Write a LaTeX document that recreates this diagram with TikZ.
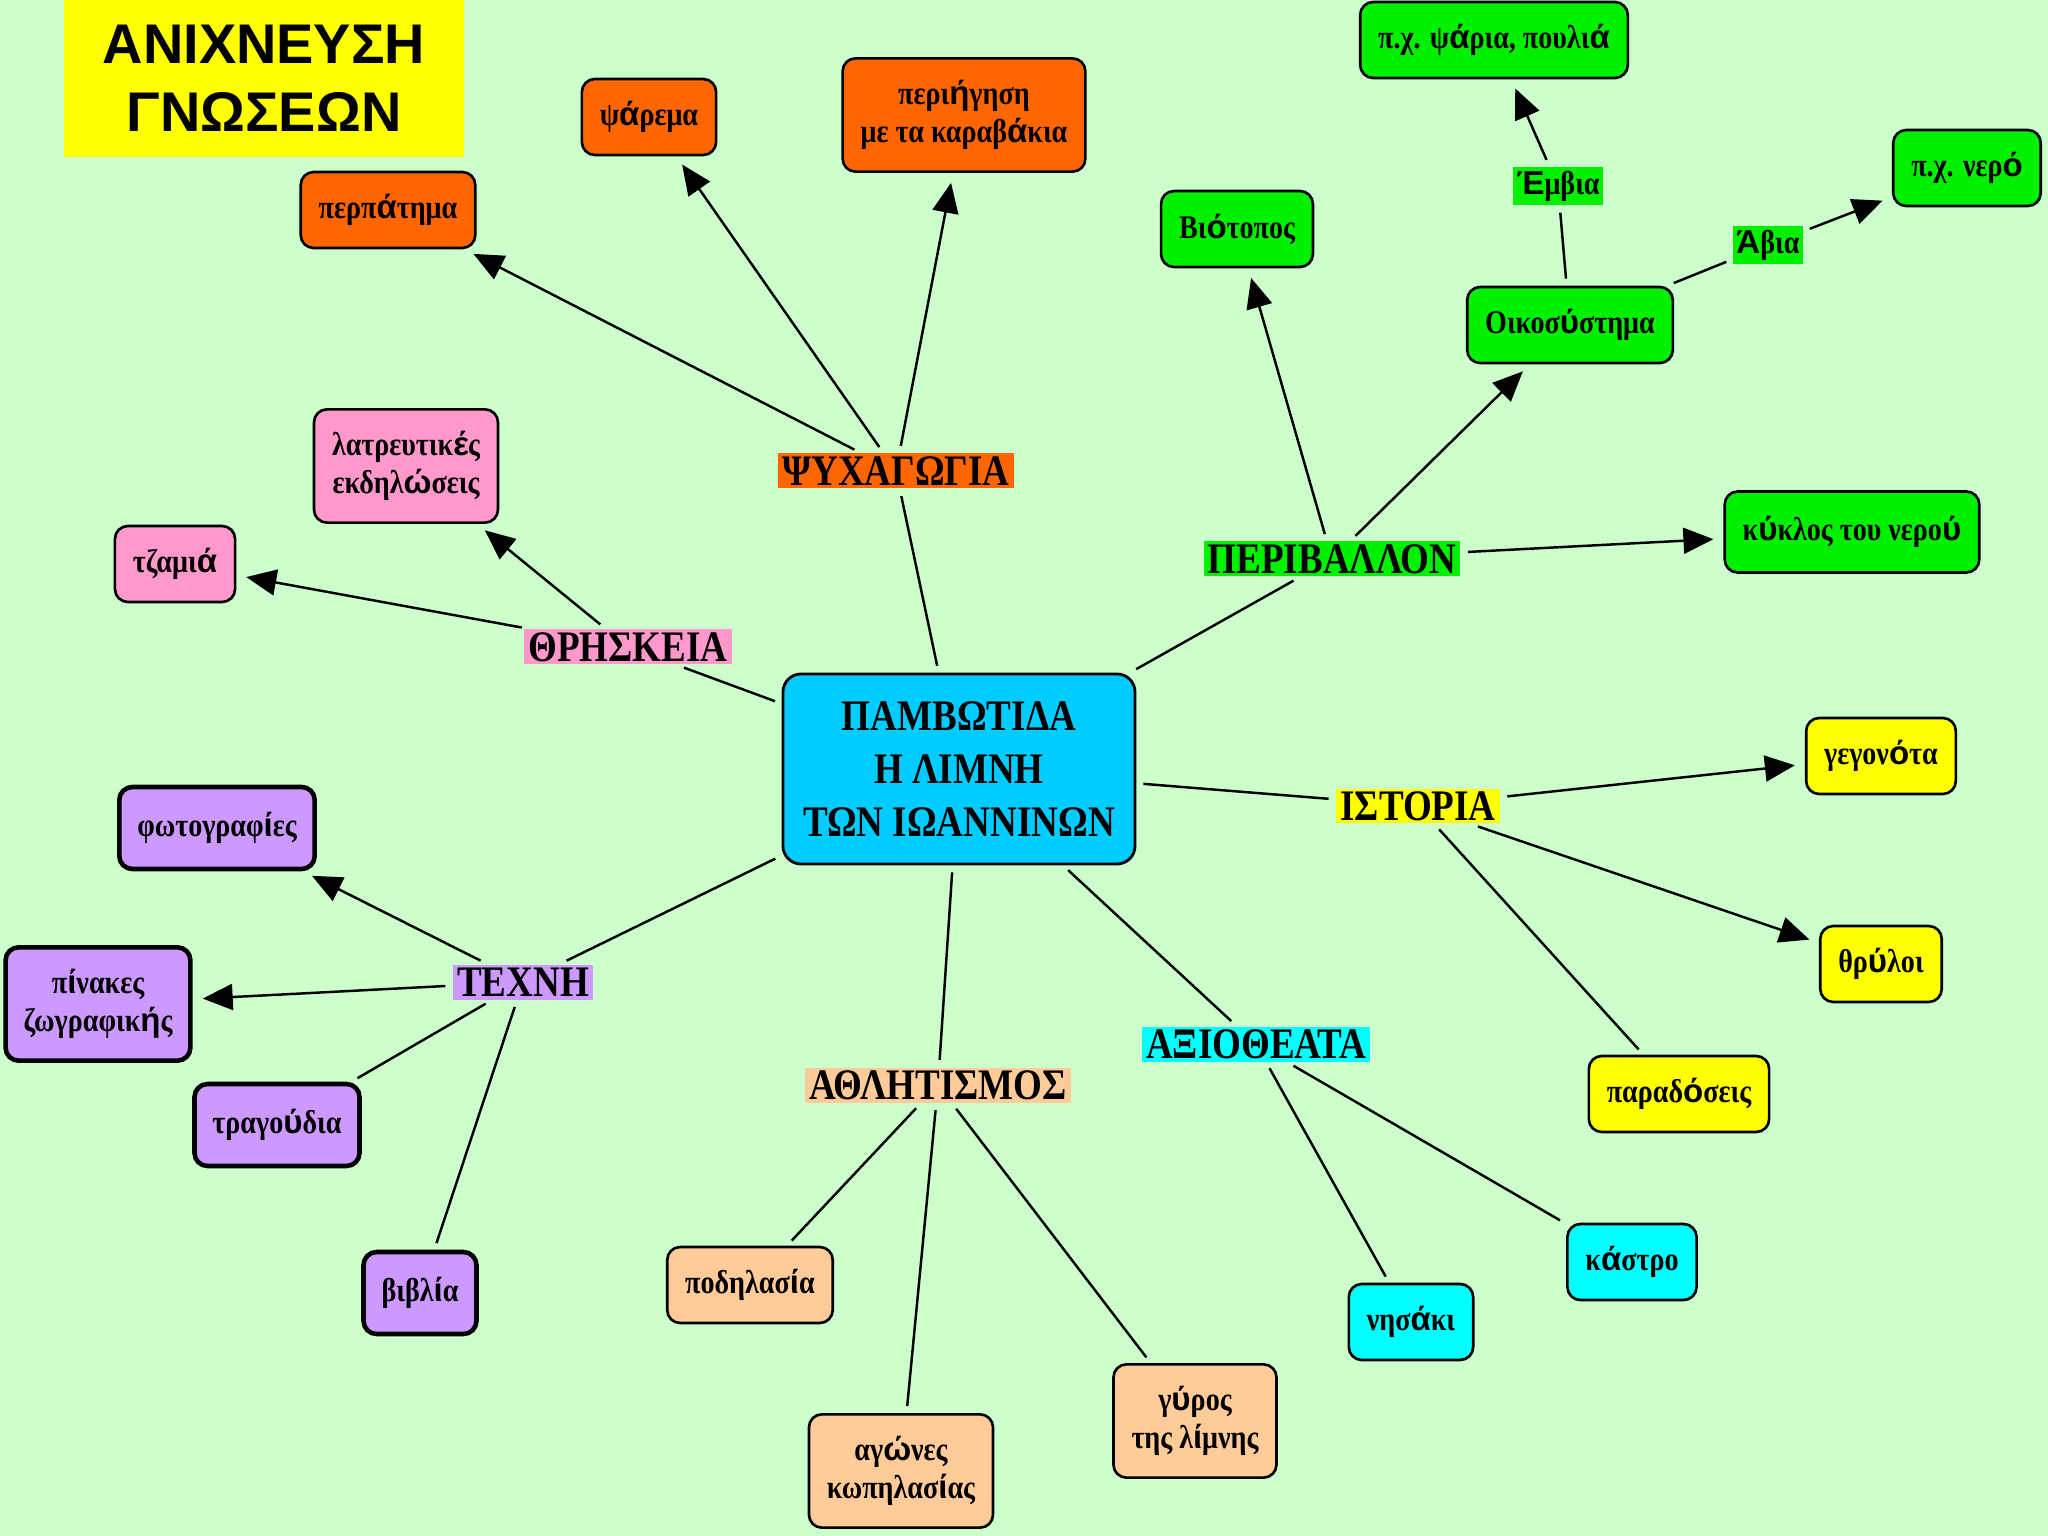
\documentclass[tikz,border=0pt]{standalone}
\usepackage{fontspec}
\setmainfont{Liberation Serif}[FakeStretch=0.85]
\newfontfamily\sanstonos{Liberation Sans}
\newfontfamily\titrefont{Liberation Sans}
\usetikzlibrary{arrows.meta}

\definecolor{fond}{RGB}{204,255,204}
\definecolor{bleuc}{RGB}{0,204,255}
\definecolor{orangef}{RGB}{255,102,0}
\definecolor{rose}{RGB}{255,153,204}
\definecolor{vertf}{RGB}{0,240,0}
\definecolor{jaune}{RGB}{255,255,0}
\definecolor{cyanf}{RGB}{0,255,255}
\definecolor{peche}{RGB}{255,204,153}
\definecolor{violet}{RGB}{204,153,255}

\newcommand\tonosf[1]{{\sanstonos\bfseries #1}}
\newcommand\taillebox{\bfseries\fontsize{9.4}{10.8}\selectfont}
\newcommand\taillerub{\bfseries\fontsize{12.4}{15.2}\selectfont}
\newcommand\tailletitre{\titrefont\bfseries\fontsize{15.9}{19.4}\selectfont}

\begin{document}
\begin{tikzpicture}[
    boite/.style={draw=black, line width=0.75pt, rounded corners=0.13cm, font=\taillebox, align=center, inner xsep=0.18cm, inner ysep=0.22cm, minimum height=0.76cm},
    epaisse/.style={boite, line width=1.3pt, minimum height=0.82cm},
    rubrique/.style={font=\taillerub, inner xsep=0.04cm, inner ysep=0.03cm, text height=0.29cm, text depth=0cm},
    sousrub/.style={font=\taillebox, inner sep=0.03cm, text height=0.25cm, text depth=0.07cm},
    fleche/.style={-{Triangle[length=0.3cm,width=0.26cm]}, line width=0.7pt, shorten >=0.1cm, shorten <=0.07cm},
    trait/.style={line width=0.7pt, shorten >=0.07cm, shorten <=0.07cm}
  ]
  \fill[fond] (0,0) rectangle (20.48,-15.36);
  \useasboundingbox (0,0) rectangle (20.48,-15.36);

  % Titre
  \node[fill=jaune, minimum width=4cm, minimum height=1.57cm, align=center, font=\tailletitre, inner sep=0pt] (titre) at (2.64,-0.785) {ΑΝΙΧΝΕΥΣΗ\\ΓΝΩΣΕΩΝ};

  % Noeud central
  \node[boite, fill=bleuc, font=\taillerub, line width=0.8pt, rounded corners=0.18cm, minimum width=3.52cm, minimum height=1.9cm] (limni) at (9.59,-7.69) {ΠΑΜΒΩΤΙΔΑ\\Η ΛΙΜΝΗ\\ΤΩΝ ΙΩΑΝΝΙΝΩΝ};

  % Rubriques
  \node[rubrique, fill=orangef] (psychagogia) at (8.96,-4.71) {ΨΥΧΑΓΩΓΙΑ};
  \node[rubrique, fill=rose] (thriskeia) at (6.28,-6.47) {ΘΡΗΣΚΕΙΑ};
  \node[rubrique, fill=vertf] (perivallon) at (13.32,-5.59) {ΠΕΡΙΒΑΛΛΟΝ};
  \node[rubrique, fill=jaune] (istoria) at (14.18,-8.06) {ΙΣΤΟΡΙΑ};
  \node[rubrique, fill=cyanf] (axiotheata) at (12.56,-10.44) {ΑΞΙΟΘΕΑΤΑ};
  \node[rubrique, fill=peche] (athlitismos) at (9.38,-10.85) {ΑΘΛΗΤΙΣΜΟΣ};
  \node[rubrique, fill=violet] (techni) at (5.23,-9.82) {ΤΕΧΝΗ};

  % Psychagogia
  \node[boite, fill=orangef] (perpatima) at (3.88,-2.10) {περπ\tonosf{ά}τημα};
  \node[boite, fill=orangef] (psarema) at (6.49,-1.17) {ψ\tonosf{ά}ρεμα};
  \node[boite, fill=orangef] (periigisi) at (9.64,-1.15) {περι\tonosf{ή}γηση\\με τα καραβ\tonosf{ά}κια};

  % Thriskeia
  \node[boite, fill=rose] (latreutikes) at (4.06,-4.66) {λατρευτικ\tonosf{έ}ς\\εκδηλ\tonosf{ώ}σεις};
  \node[boite, fill=rose] (tzamia) at (1.75,-5.64) {τζαμι\tonosf{ά}};

  % Perivallon
  \node[boite, fill=vertf] (viotopos) at (12.37,-2.29) {Βι\tonosf{ό}τοπος};
  \node[boite, fill=vertf] (oikosystima) at (15.70,-3.25) {Οικοσ\tonosf{ύ}στημα};
  \node[sousrub, fill=vertf] (emvia) at (15.58,-1.86) {\tonosf{Έ}μβια};
  \node[sousrub, fill=vertf] (avia) at (17.68,-2.45) {\tonosf{Ά}βια};
  \node[boite, fill=vertf] (psaria) at (14.94,-0.40) {π.χ. ψ\tonosf{ά}ρια, πουλι\tonosf{ά}};
  \node[boite, fill=vertf] (nero) at (19.67,-1.68) {π.χ. νερ\tonosf{ό}};
  \node[boite, fill=vertf, minimum height=0.81cm] (kyklos) at (18.52,-5.32) {κ\tonosf{ύ}κλος του νερο\tonosf{ύ}};

  % Istoria
  \node[boite, fill=jaune] (gegonota) at (18.81,-7.56) {γεγον\tonosf{ό}τα};
  \node[boite, fill=jaune] (thryloi) at (18.81,-9.64) {θρ\tonosf{ύ}λοι};
  \node[boite, fill=jaune] (paradoseis) at (16.79,-10.94) {παραδ\tonosf{ό}σεις};

  % Axiotheata
  \node[boite, fill=cyanf] (kastro) at (16.32,-12.62) {κ\tonosf{ά}στρο};
  \node[boite, fill=cyanf] (nisaki) at (14.11,-13.22) {νησ\tonosf{ά}κι};

  % Athlitismos
  \node[boite, fill=peche] (podilasia) at (7.50,-12.85) {ποδηλασ\tonosf{ί}α};
  \node[boite, fill=peche] (agones) at (9.01,-14.71) {αγ\tonosf{ώ}νες\\κωπηλασ\tonosf{ί}ας};
  \node[boite, fill=peche] (gyros) at (11.95,-14.21) {γ\tonosf{ύ}ρος\\της λ\tonosf{ί}μνης};

  % Techni
  \node[epaisse, fill=violet] (fotografies) at (2.17,-8.28) {φωτογραφ\tonosf{ί}ες};
  \node[epaisse, fill=violet] (pinakes) at (0.98,-10.04) {π\tonosf{ί}νακες\\ζωγραφικ\tonosf{ή}ς};
  \node[epaisse, fill=violet] (tragoudia) at (2.77,-11.25) {τραγο\tonosf{ύ}δια};
  \node[epaisse, fill=violet] (vivlia) at (4.20,-12.93) {βιβλ\tonosf{ί}α};

  % Traits
  \foreach \depart/\arrivee in {limni/psychagogia, limni/thriskeia, limni/perivallon, limni/istoria, limni/axiotheata, limni/athlitismos, limni/techni, oikosystima/emvia, oikosystima/avia, istoria/paradoseis, axiotheata/nisaki, axiotheata/kastro, athlitismos/podilasia, athlitismos/agones, athlitismos/gyros, techni/tragoudia, techni/vivlia}
    \draw[trait] (\depart) -- (\arrivee);

  % Fleches
  \foreach \depart/\arrivee in {psychagogia/perpatima, psychagogia/psarema, psychagogia/periigisi, thriskeia/tzamia, thriskeia/latreutikes, perivallon/viotopos, perivallon/oikosystima, perivallon/kyklos, emvia/psaria, avia/nero, istoria/gegonota, istoria/thryloi, techni/fotografies, techni/pinakes}
    \draw[fleche] (\depart) -- (\arrivee);
\end{tikzpicture}
\end{document}
